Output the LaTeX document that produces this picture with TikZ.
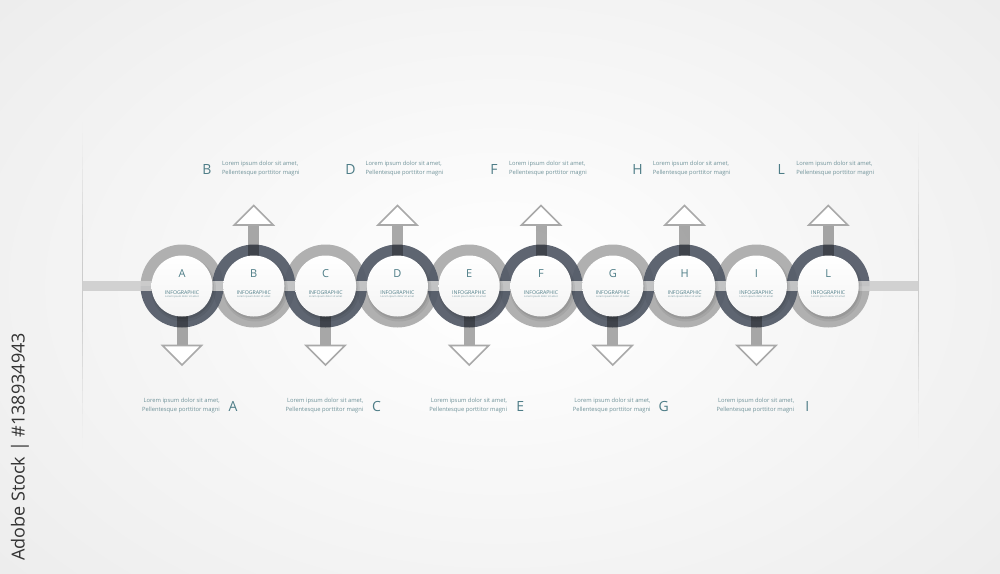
\documentclass[tikz,border=0pt]{standalone}
\usepackage{fontspec}
\setmainfont{Open Sans}
\usetikzlibrary{calc,fadings}
\definecolor{ringdark}{HTML}{535A67}
\definecolor{ringgray}{HTML}{B0B0B0}
\definecolor{bandgray}{HTML}{CECECE}
\definecolor{tealtxt}{HTML}{4E7D87}
\definecolor{loremc}{HTML}{6F9299}
\definecolor{arrowline}{HTML}{A9A9A9}
\tikzfading[name=midfade, top color=transparent!100, middle color=transparent!0, bottom color=transparent!100]
\begin{document}
\begin{tikzpicture}[x=1pt,y=-1pt,
  letterlbl/.style={font=\fontsize{11}{11}\selectfont, text=tealtxt, inner sep=0pt},
  biglbl/.style={font=\fontsize{14}{14}\selectfont, text=tealtxt, inner sep=0pt},
  infolbl/.style={font=\fontsize{5.2}{5.2}\selectfont, text=tealtxt, inner sep=0pt},
  tinylbl/.style={font=\fontsize{2.6}{2.6}\selectfont, text=loremc, inner sep=0pt},
  lorem/.style={font=\fontsize{5.8}{6}\selectfont, text=loremc, inner sep=0pt},
  stem/.style={draw=black, draw opacity=0.33, line width=11pt},
  arrowtri/.style={draw=arrowline, fill=white, line width=1.6pt, line join=miter},
  whitedisc/.style={circle, minimum size=61pt, inner sep=0pt, top color=white, bottom color=gray!9},
]
\useasboundingbox (0,0) rectangle (1000,573);
% background
\shade[inner color=white, outer color=gray!14] (-150,-150) rectangle (1150,723);
\fill[gray!8, opacity=0.8, path fading=midfade] (0,0) rectangle (82,573);
\fill[gray!8, opacity=0.8, path fading=midfade] (918,0) rectangle (1000,573);
% wall shadows
\shade[left color=gray!26, right color=white, opacity=0.75, path fading=midfade] (82,110) rectangle (130,460);
\shade[right color=gray!26, left color=white, opacity=0.75, path fading=midfade] (870,110) rectangle (918,460);
\foreach \k in {0,...,29} {
  \pgfmathsetmacro{\op}{0.16*(sin((\k+0.5)*6))^2}
  \fill[black, opacity=\op] (81.5,{110+\k*11.7}) rectangle (82.5,{110+(\k+1)*11.7});
  \fill[black, opacity=\op] (917.5,{110+\k*11.7}) rectangle (918.5,{110+(\k+1)*11.7});
}
% coordinates
\foreach \i in {0,...,9} {
  \coordinate (c\i) at ({182+71.8*\i},286);
}
% gray halves
\foreach \i in {0,2,4,6,8} {
  \fill[ringgray] ($(c\i)+(-41.5,0)$) arc[start angle=180, end angle=360, radius=41.5] -- cycle;
}
\foreach \i in {1,3,5,7,9} {
  \fill[ringgray] ($(c\i)+(-41.5,0)$) arc[start angle=180, end angle=0, radius=41.5] -- cycle;
}
% dark halves
\foreach \i in {0,2,4,6,8} {
  \fill[ringdark, opacity=0.93] ($(c\i)+(-41.5,0)$) arc[start angle=180, end angle=0, radius=41.5] -- cycle;
}
\foreach \i in {1,3,5,7,9} {
  \fill[ringdark, opacity=0.93] ($(c\i)+(-41.5,0)$) arc[start angle=180, end angle=360, radius=41.5] -- cycle;
}
% band
\coordinate (bandL) at (82,286);
\coordinate (bandR) at (918,286);
\draw[bandgray, opacity=0.9, line width=10pt] (bandL) -- (bandR);
% arrows
\foreach \i in {1,3,5,7,9} {
  \coordinate (t\i) at ($(c\i)+(0,-61)$);
  \draw[stem] (c\i) -- (t\i);
  \draw[arrowtri] ($(t\i)+(-19.5,0)$) -- ($(t\i)+(0,-19.5)$) -- ($(t\i)+(19.5,0)$) -- cycle;
}
\foreach \i in {0,2,4,6,8} {
  \coordinate (t\i) at ($(c\i)+(0,59.5)$);
  \draw[stem] (c\i) -- (t\i);
  \draw[arrowtri] ($(t\i)+(-19.5,0)$) -- ($(t\i)+(0,19.5)$) -- ($(t\i)+(19.5,0)$) -- cycle;
}
% white discs with shadow
\foreach \i in {0,...,9} {
  \fill[black, opacity=0.06] ($(c\i)+(1.5,3)$) circle[radius=32.5];
  \fill[black, opacity=0.08] ($(c\i)+(1,2)$) circle[radius=31];
  \node[whitedisc] (d\i) at (c\i) {};
}
% circle texts
\foreach \i/\L in {0/A,1/B,2/C,3/D,4/E,5/F,6/G,7/H,8/I,9/L} {
  \node[letterlbl] (l\i) at ($(c\i)+(0,-12)$) {\L};
  \node[infolbl] (inf\i) at ($(c\i)+(0,6.5)$) {INFOGRAPHIC};
  \node[tinylbl] (tl\i) at ($(c\i)+(0,11)$) {Lorem ipsum dolor sit amet};
}
% top labels
\foreach \i/\L in {1/B,3/D,5/F,7/H,9/L} {
  \node[biglbl] (bl\i) at ($(c\i)+(-47,-117)$) {\L};
  \node[lorem, anchor=west] (la\i) at ($(c\i)+(-32,-122)$) {Lorem ipsum dolor sit amet,};
  \node[lorem, anchor=west] (lb\i) at ($(c\i)+(-32,-113)$) {Pellentesque porttitor magni};
}
% bottom labels
\foreach \i/\L in {0/A,2/C,4/E,6/G,8/I} {
  \node[biglbl] (bl\i) at ($(c\i)+(51,120)$) {\L};
  \node[lorem, anchor=east] (la\i) at ($(c\i)+(38,115)$) {Lorem ipsum dolor sit amet,};
  \node[lorem, anchor=east] (lb\i) at ($(c\i)+(38,124)$) {Pellentesque porttitor magni};
}
% vertical text
\node[rotate=90, font=\fontsize{18}{18}\selectfont, text=black!80, inner sep=0pt] (wm) at (20,447) {Adobe Stock | \#138934943};
\end{tikzpicture}
\end{document}
